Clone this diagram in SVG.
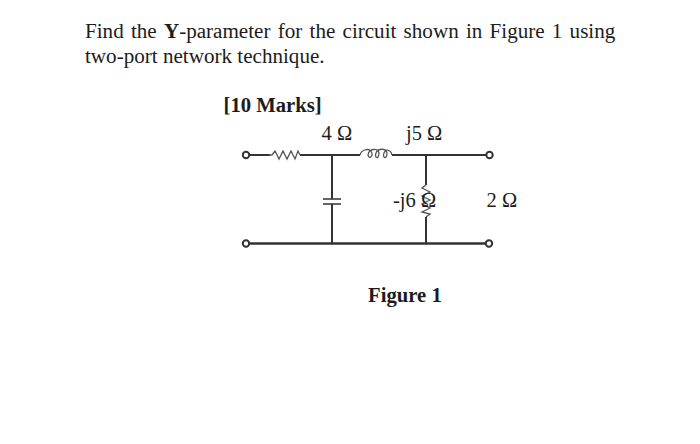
<svg xmlns="http://www.w3.org/2000/svg" width="700" height="444" viewBox="0 0 700 444">
<style>
text{font-family:"Liberation Serif","Times New Roman",serif;fill:#1c1c1c}
.p{font-size:21.1px}
.l{font-size:20.500px}
.b{font-weight:bold}
.h{font-size:20.700px;font-weight:bold}
.w{fill:none;stroke:#333;stroke-width:2}
.c{fill:none;stroke:#555;stroke-width:1.300}
.t{fill:#fff;stroke:#333;stroke-width:2}
</style>
<rect width="700" height="444" fill="#fff"/>
<text class="p" x="85" y="37.500" word-spacing="1.950">Find the <tspan class="b">Y</tspan>-parameter for the circuit shown in Figure 1 using</text>
<text class="p" x="85" y="62.500">two-port network technique.</text>
<text class="h" x="223.500" y="112">[10 Marks]</text>
<g id="connectors">
<path class="w" d="M250 155H270M300 155H360M392 155H486M332 155V199M332 204V243M426 155V185M426 217V243"/>
<path class="w" d="M250 243.500H486" style="stroke-width:2.500"/>
</g>
<g id="R4"><path class="c" d="M269 155L272 155L275 151L279 159L283 151L287 159L291 151L295 159L298 151L300 155"/></g>
<g id="L"><path class="c" d="M360 155C361 150 368 148 371 151C374 156 369 160 368 155C369 148 378 148 379 153C379 160 374 158 376 153C378 148 386 148 387 153C387 160 382 158 384 153C386 148 391 150 392 155"/></g>
<g id="C"><path class="w" style="stroke-width:1.300" d="M323 199H341M323 204H341"/></g>
<g id="R6"><path class="c" d="M426 185L422 188L430 192L422 196L430 200L422 204L430 208L422 212L430 214L426 217"/></g>
<g id="terminals">
<circle class="t" cx="246" cy="155" r="3.200"/>
<circle class="t" cx="489.500" cy="155" r="3.200"/>
<circle class="t" cx="246" cy="243.500" r="3.200"/>
<circle class="t" cx="489" cy="243.500" r="3.200"/>
</g>
<text class="l" x="321.500" y="140">4 Ω</text>
<text class="l" x="406" y="140">j5 Ω</text>
<text class="l" x="393" y="207">-j6 Ω</text>
<text class="l" x="486.500" y="207">2 Ω</text>
<text class="h" x="368" y="302">Figure 1</text>
</svg>
